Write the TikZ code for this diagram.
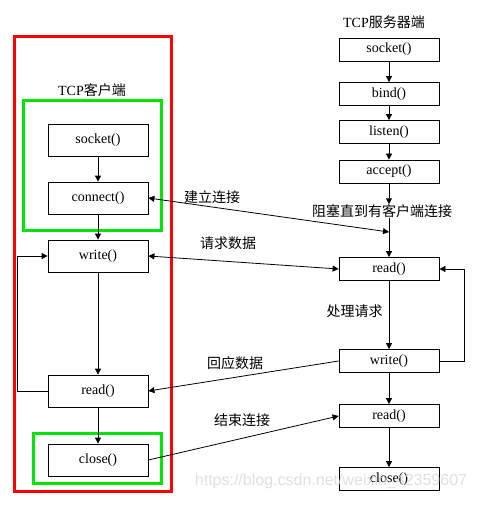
\documentclass[tikz,border=0pt]{standalone}
\usepackage{fontspec}
\setmainfont{Liberation Serif}
\newfontfamily\cjk{Noto Sans CJK SC}
\newfontfamily\wmfont{Liberation Sans}
\usetikzlibrary{arrows.meta}
\begin{document}
\begin{tikzpicture}[x=1pt,y=-1pt,
  every node/.style={font=\fontsize{14}{16}\selectfont},
  cbox/.style={draw,line width=0.8pt,minimum width=100pt,minimum height=32pt,inner sep=0pt},
  sbox/.style={draw,line width=0.8pt,minimum width=100pt,minimum height=23pt,inner sep=0pt},
  lbl/.style={inner sep=0pt,font=\cjk\fontsize{14}{16}\selectfont},
  conn/.style={line width=0.8pt,-{Triangle[length=6pt,width=6pt]}},
  both/.style={line width=0.8pt,{Triangle[length=6pt,width=6pt]}-{Triangle[length=6pt,width=6pt]}},
  redframe/.style={draw=red,line width=3pt},
  greenframe/.style={draw=green!90!black,line width=3pt}]
\useasboundingbox (0,0) rectangle (476,505);
\fill[white] (0,0) rectangle (476,505);

% frames
\draw[redframe] (14,37) rectangle (171,491);
\draw[greenframe] (23,101) rectangle (161,230);
\draw[greenframe] (33,433) rectangle (161,483);

% client
\node[lbl] (ctitle) at (92,90) {{\rmfamily TCP}客户端};
\node[cbox] (csock) at (98,140) {socket()};
\node[cbox] (cconn) at (98,198) {connect()};
\node[cbox] (cwrite) at (98,256) {write()};
\node[cbox] (cread) at (98,391) {read()};
\node[cbox] (cclose) at (98,460) {close()};

% server
\node[lbl] (stitle) at (384,22) {{\rmfamily TCP}服务器端};
\node[sbox] (ssock) at (389,49.5) {socket()};
\node[sbox] (sbind) at (389,94) {bind()};
\node[sbox] (slisten) at (389,132) {listen()};
\node[sbox] (saccept) at (389,171.5) {accept()};
\node[lbl] (blk) at (382,211) {阻塞直到有客户端连接};
\node[sbox] (sread) at (389,269) {read()};
\node[sbox] (swrite) at (389,361) {write()};
\node[sbox] (sread2) at (389,416) {read()};
\node[sbox] (sclose) at (389,479) {close()};
\coordinate (jn) at (389,232);

% client chain
\draw[conn] (csock) -- (cconn);
\draw[conn] (cconn) -- (cwrite);
\draw[conn] (cwrite) -- (cread);
\draw[conn] (cread) -- (cclose);
\draw[conn] (cread.west) -- ++(-30,0) |- (cwrite.west);

% server chain
\draw[conn] (ssock) -- (sbind);
\draw[conn] (sbind) -- (slisten);
\draw[conn] (slisten) -- (saccept);
\draw[conn] (saccept.south) -- (saccept.south |- blk.north);
\draw[conn] (saccept.south |- blk.south) -- (sread.north);
\draw[conn] (sread) -- node[lbl,left=6pt,pos=0.45] (proc) {处理请求} (swrite);
\draw[conn] (swrite) -- (sread2);
\draw[conn] (sread2) -- (sclose);
\draw[conn] (swrite.east) -- ++(25,0) |- (sread.east);

% messages
\draw[both] (cconn.east) -- (jn);
\node[lbl] (m1) at (212,197) {建立连接};
\draw[both] (cwrite.east) -- (sread.west);
\node[lbl] (m2) at (228,243) {请求数据};
\draw[conn] (swrite.west) -- (cread.east);
\node[lbl] (m3) at (235,363) {回应数据};
\draw[conn] (cclose.east) -- (sread2.west);
\node[lbl] (m4) at (242,420) {结束连接};

% watermark
\node[inner sep=0pt,text=gray!30,opacity=0.8,font=\wmfont\fontsize{16}{18}\selectfont] (wm) at (331,481) {https://blog.csdn.net/weixin\_42359607};
\end{tikzpicture}
\end{document}
